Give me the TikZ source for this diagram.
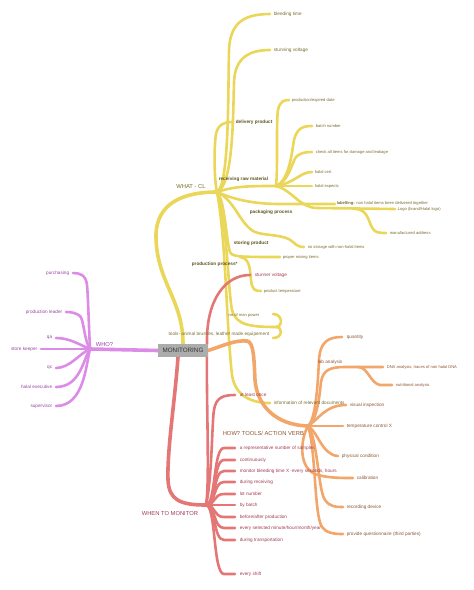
\documentclass[tikz,border=0pt]{standalone}
\usepackage{fontspec}
\setmainfont{Liberation Sans}
\usetikzlibrary{backgrounds}
\definecolor{ylw}{RGB}{234,214,88}
\definecolor{ytx}{RGB}{120,108,46}
\definecolor{ytb}{RGB}{92,82,30}
\definecolor{prp}{RGB}{220,140,230}
\definecolor{ptx}{RGB}{150,70,160}
\definecolor{redl}{RGB}{229,118,118}
\definecolor{rtx}{RGB}{160,60,82}
\definecolor{org}{RGB}{242,166,106}
\definecolor{otx}{RGB}{140,85,50}
\definecolor{mfill}{RGB}{172,172,172}
\begin{document}
\begin{tikzpicture}[x=1pt,y=-1pt,
  br/.style={line width=2.6pt,line cap=round},
  trk/.style={line width=3.6pt,line cap=round},
  yb/.style={br,draw=ylw}, ytr/.style={trk,draw=ylw},
  pb/.style={br,draw=prp}, ptr/.style={trk,draw=prp},
  rb/.style={br,draw=redl}, rtr/.style={trk,draw=redl},
  ob/.style={br,draw=org}, otr/.style={trk,draw=org},
  t/.style={inner sep=0.6pt,font=\fontsize{4.7}{5}\selectfont},
  ts/.style={inner sep=0.6pt,font=\fontsize{4.1}{4.5}\selectfont},
  tb/.style={inner sep=0.6pt,font=\fontsize{4.7}{5}\selectfont\bfseries},
  tm/.style={inner sep=0.6pt,font=\fontsize{5.8}{6.5}\selectfont},
  mon/.style={fill=mfill,text=black!80,inner sep=0pt,minimum width=50pt,minimum height=13pt,font=\fontsize{6.3}{7}\selectfont}
]
\useasboundingbox (0,0) rectangle (474,590);
\node[mon] (mon) at (183,350.5) {MONITORING};

\begin{scope}[on background layer]
% ---------- coordinates ----------
\coordinate (yh) at (217,192);
\coordinate (bt) at (270,14);
\coordinate (sv1) at (270,50);
\coordinate (dp) at (233,122);
\coordinate (rr) at (276,186);
\coordinate (ped) at (289,100);
\coordinate (bn) at (312,126);
\coordinate (ck) at (312,152);
\coordinate (hc) at (312,172);
\coordinate (hx) at (312,186);
\coordinate (lab) at (335,204);
\coordinate (logo) at (395,209);
\coordinate (mj) at (355,209);
\coordinate (ma) at (386,233);
\coordinate (ns) at (304,247);
\coordinate (pm) at (280,257);
\coordinate (ptj) at (240,257);
\coordinate (ptc) at (261,291);
\coordinate (mpj) at (276,327);
\coordinate (nm) at (273,314);
\coordinate (tl) at (273,338);
\coordinate (inf) at (270,403);
\coordinate (rh) at (206,505);
\coordinate (sv2) at (250,275);
\coordinate (alo) at (235,395);
\coordinate (oh) at (308,426);
\coordinate (qu) at (342,337);
\coordinate (dna) at (383,367);
\coordinate (nj) at (358,367);
\coordinate (nu) at (392,385);
\coordinate (vi) at (346,405);
\coordinate (te) at (343,426);
\coordinate (pc) at (338,456);
\coordinate (ca) at (353,478);
\coordinate (rd) at (343,507);
\coordinate (pq) at (343,534);
\coordinate (ph) at (90,349);
\coordinate (pu) at (73,273);
\coordinate (pl) at (66,312);
\coordinate (qa) at (56,338);
\coordinate (sk) at (41,349);
\coordinate (qc) at (56,368);
\coordinate (he) at (56,387);
\coordinate (sp) at (56,406);
\coordinate (ms) at (178,357);

% ---------- yellow ----------
\draw[ytr] (mon.north) .. controls (183,300) and (157,282) .. (156,238) .. controls (155,202) and (185,192) .. (yh);
\draw[yb] (yh) .. controls (229,185) and (228,100) .. (229,50) .. controls (230,22) and (245,14) .. (bt);
\draw[yb] (yh) .. controls (233,185) and (233,120) .. (234,82) .. controls (235,57) and (250,50) .. (sv1);
\draw[yb] (yh) .. controls (214,180) and (214,145) .. (216,134) .. controls (218,124) and (225,122) .. (dp);
\draw[yb] (yh) .. controls (235,186) and (250,186) .. (rr);
\draw[yb] (rr) .. controls (278,170) and (276,122) .. (278,110) .. controls (280,101) and (284,100) .. (ped);
\draw[yb] (rr) .. controls (290,180) and (292,150) .. (294,140) .. controls (297,128) and (303,126) .. (bn);
\draw[yb] (rr) .. controls (290,181) and (292,160) .. (297,156) .. controls (301,153) and (305,152) .. (ck);
\draw[yb] (rr) .. controls (295,183) and (300,172) .. (hc);
\draw[yb] (rr) -- (hx);
\draw[yb] (yh) .. controls (235,200) and (255,204) .. (280,204) -- (lab);
\draw[yb] (rr) .. controls (292,190) and (300,208) .. (317,208) -- (logo);
\draw[yb] (mj) .. controls (370,209) and (368,226) .. (375,231) .. controls (378,233) and (382,233) .. (ma);
\draw[yb] (yh) .. controls (235,200) and (240,225) .. (255,232) .. controls (265,236) and (285,234) .. (293,242) .. controls (297,246) and (300,247) .. (ns);
\draw[yb] (yh) .. controls (225,200) and (226,240) .. (230,252) .. controls (232,257) and (240,257) .. (pm);
\draw[yb] (ptj) .. controls (250,258) and (250,270) .. (251,280) .. controls (252,290) and (255,291) .. (ptc);
\draw[yb] (yh) .. controls (228,230) and (228,290) .. (232,310) .. controls (236,325) and (250,327) .. (mpj);
\draw[yb] (mpj) .. controls (283,327) and (283,314) .. (nm);
\draw[yb] (mpj) .. controls (283,327) and (283,338) .. (tl);
\draw[yb] (yh) .. controls (226,240) and (226,320) .. (232,375) .. controls (235,395) and (250,403) .. (inf);

% ---------- red ----------
\draw[rtr] (ms) .. controls (175,400) and (167,450) .. (168,480) .. controls (169,500) and (180,505) .. (rh);
\draw[rb] (rh) .. controls (210,480) and (206,400) .. (207,340) .. controls (207,300) and (225,275) .. (sv2);
\draw[rb] (rh) .. controls (212,480) and (212,420) .. (214,410) .. controls (216,398) and (222,395) .. (alo);
\foreach \i/\yy in {1/448,2/460,3/471,4/482,5/494,6/505,7/517,8/528,9/540,10/574}{
  \coordinate (r\i) at (235,\yy);
  \draw[rb] (rh) .. controls (216,505) and (213,\yy) .. (224,\yy) -- (r\i);
}

% ---------- orange ----------
\draw[otr] (mon.east) .. controls (225,345) and (235,340) .. (247,341) .. controls (254,342) and (254,360) .. (255,380) .. controls (257,405) and (275,425) .. (oh);
\draw[ob] (oh) .. controls (316,420) and (318,380) .. (319,360) .. controls (320,342) and (328,337) .. (qu);
\draw[ob] (oh) .. controls (318,420) and (320,390) .. (321,382) .. controls (323,370) and (330,367) .. (345,367) -- (dna);
\draw[ob] (nj) .. controls (368,367) and (370,383) .. (380,385) -- (nu);
\draw[ob] (oh) .. controls (318,420) and (325,405) .. (vi);
\draw[ob] (oh) -- (te);
\draw[ob] (oh) .. controls (318,432) and (322,455) .. (pc);
\draw[ob] (oh) .. controls (300,440) and (298,470) .. (318,475) .. controls (330,478) and (340,478) .. (ca);
\draw[ob] (oh) .. controls (318,440) and (318,490) .. (325,500) .. controls (330,507) and (336,507) .. (rd);
\draw[ob] (oh) .. controls (316,450) and (314,515) .. (322,527) .. controls (326,533) and (334,534) .. (pq);

% ---------- purple ----------
\draw[ptr] (mon.west) -- (ph);
\draw[pb] (ph) .. controls (89,330) and (88,295) .. (87,285) .. controls (86,275) and (80,273) .. (pu);
\draw[pb] (ph) .. controls (84,340) and (84,320) .. (80,316) .. controls (76,313) and (72,312) .. (pl);
\draw[pb] (ph) .. controls (80,345) and (70,338) .. (qa);
\draw[pb] (ph) -- (sk);
\draw[pb] (ph) .. controls (80,353) and (70,368) .. (qc);
\draw[pb] (ph) .. controls (83,360) and (80,387) .. (he);
\draw[pb] (ph) .. controls (86,365) and (84,406) .. (sp);
\end{scope}

% ---------- yellow labels ----------
\node[tm,text=ytx] (lwhat) at (191,186) {WHAT - CL};
\node[t,text=ytx,anchor=west] (lbt) at (273,14) {bleeding time};
\node[t,text=ytx,anchor=west] (lsv1) at (273,50) {stunning voltage};
\node[tb,text=ytb,anchor=west] (ldp) at (235,122) {delivery product};
\node[tb,text=ytb,anchor=west] (lrr) at (218,179.5) {receiving raw material};
\node[ts,text=ytx,anchor=west] (lped) at (291,100) {production/expired date};
\node[ts,text=ytx,anchor=west] (lbn) at (315,126) {batch number};
\node[ts,text=ytx,anchor=west] (lck) at (315,152) {check all items for damage and leakage};
\node[ts,text=ytx,anchor=west] (lhc) at (314,172) {halal cert};
\node[ts,text=ytx,anchor=west] (lhx) at (314,186) {halal expects};
\node[ts,text=ytx,anchor=west] (llab) at (336,203.5) {\textbf{labelling:} non halal items been delivered together};
\node[ts,text=ytx,anchor=west] (llogo) at (397,209) {Logo (brand/Halal logo)};
\node[ts,text=ytx,anchor=west] (lma) at (389,233) {manufactured address};
\node[tb,text=ytb,anchor=west] (lpp) at (249,212.5) {packaging process};
\node[ts,text=ytx,anchor=west] (lns) at (307,247) {no storage with non-halal items};
\node[tb,text=ytb,anchor=west] (lsp) at (233,243) {storing product};
\node[tb,text=ytb,anchor=west] (lpr) at (191,264) {production process*};
\node[ts,text=ytx,anchor=west] (lpm) at (282,257) {proper mixing items};
\node[ts,text=ytx,anchor=west] (lptc) at (263,291) {product temperature};
\node[ts,text=ytx,anchor=east] (lnm) at (260,315) {no of man power};
\node[t,text=ytx,anchor=east] (ltl) at (270,334) {tools- animal brushes, leather made equipement};
\node[t,text=ytx,anchor=west] (linf) at (273,403) {information of relevant documents};

% ---------- red labels ----------
\node[t,text=rtx,anchor=west] (lsv2) at (254,275) {stunner voltage};
\node[t,text=rtx,anchor=west] (lalo) at (239,395) {at least once};
\node[tm,text=rtx,anchor=west] (lwhen) at (141,513) {WHEN TO MONITOR};
\foreach \i/\yy/\tx in {1/448/{a representative number of samples},2/460/{continuously},3/471/{monitor bleeding time X -every seconds, hours},4/482/{during receiving},5/494/{lot number},6/505/{by batch},7/517/{before/after production},8/528/{every selected minute/hour/month/year},9/540/{during transportation},10/574/{every shift}}{
  \node[t,text=rtx,anchor=west] (rl\i) at (239,\yy) {\tx};
}

% ---------- orange labels ----------
\node[tm,text=otx,anchor=west] (lhow) at (222,433) {HOW? TOOLS/ ACTION VERB};
\node[t,text=otx,anchor=west] (lqu) at (346,337) {quantity};
\node[t,text=otx,anchor=west] (llaba) at (317,362) {lab analysis};
\node[ts,text=otx,anchor=west] (ldna) at (386,367) {DNA analysis, traces of non halal DNA};
\node[ts,text=otx,anchor=west] (lnu) at (395,385) {nutritional analysis};
\node[t,text=otx,anchor=west] (lvi) at (349,405) {visual inspection};
\node[t,text=otx,anchor=west] (lte) at (346,426) {temperature control X};
\node[t,text=otx,anchor=west] (lpc) at (341,456) {physical condition};
\node[t,text=otx,anchor=west] (lca) at (356,478) {calibration};
\node[t,text=otx,anchor=west] (lrd) at (346,507) {recording device};
\node[t,text=otx,anchor=west] (lpq) at (346,534) {provide questionnaire (third parties)};

% ---------- purple labels ----------
\node[tm,text=ptx,anchor=west] (lwho) at (95,344) {WHO?};
\node[t,text=ptx,anchor=east] (lpu) at (70,273) {purchasing};
\node[t,text=ptx,anchor=east] (lpl) at (63,312) {production leader};
\node[t,text=ptx,anchor=east] (lqa) at (53,338) {qa};
\node[t,text=ptx,anchor=east] (lsk) at (38,349) {store keeper};
\node[t,text=ptx,anchor=east] (lqc) at (53,368) {qc};
\node[t,text=ptx,anchor=east] (lhe) at (53,387) {halal executive};
\node[t,text=ptx,anchor=east] (lsp2) at (53,406) {supervisor};
\end{tikzpicture}
\end{document}
